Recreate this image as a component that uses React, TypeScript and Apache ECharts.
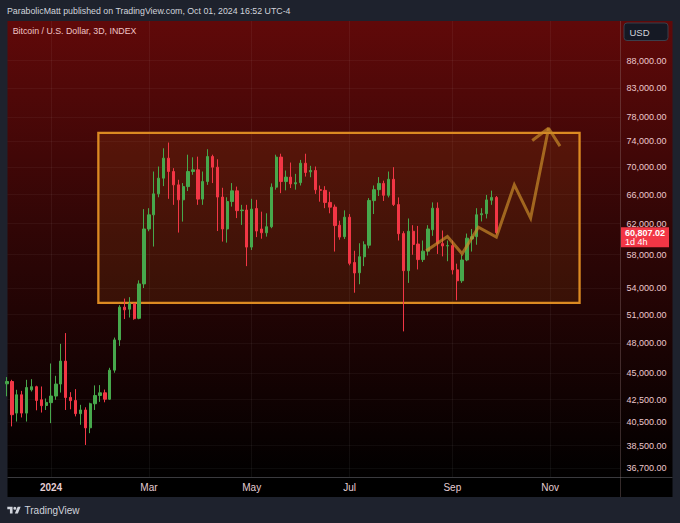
import React, { useEffect, useRef } from 'react';
import * as echarts from 'echarts';

// ---------- data ----------
const candleDates = [
  '2023-12-05', '2023-12-08', '2023-12-11', '2023-12-14', '2023-12-17', '2023-12-20', '2023-12-23', '2023-12-26', '2023-12-29',
  '2024-01-01', '2024-01-04', '2024-01-07', '2024-01-10', '2024-01-13', '2024-01-16', '2024-01-19', '2024-01-22', '2024-01-25', '2024-01-28', '2024-01-31',
  '2024-02-03', '2024-02-06', '2024-02-09', '2024-02-12', '2024-02-15', '2024-02-18', '2024-02-21', '2024-02-24', '2024-02-27',
  '2024-03-01', '2024-03-04', '2024-03-07', '2024-03-10', '2024-03-13', '2024-03-16', '2024-03-19', '2024-03-22', '2024-03-25', '2024-03-28', '2024-03-31',
  '2024-04-03', '2024-04-06', '2024-04-09', '2024-04-12', '2024-04-15', '2024-04-18', '2024-04-21', '2024-04-24', '2024-04-27', '2024-04-30',
  '2024-05-03', '2024-05-06', '2024-05-09', '2024-05-12', '2024-05-15', '2024-05-18', '2024-05-21', '2024-05-24', '2024-05-27', '2024-05-30',
  '2024-06-02', '2024-06-05', '2024-06-08', '2024-06-11', '2024-06-14', '2024-06-17', '2024-06-20', '2024-06-23', '2024-06-26', '2024-06-29',
  '2024-07-02', '2024-07-05', '2024-07-08', '2024-07-11', '2024-07-14', '2024-07-17', '2024-07-20', '2024-07-23', '2024-07-26', '2024-07-29',
  '2024-08-01', '2024-08-04', '2024-08-07', '2024-08-10', '2024-08-13', '2024-08-16', '2024-08-19', '2024-08-22', '2024-08-25', '2024-08-28', '2024-08-31',
  '2024-09-03', '2024-09-06', '2024-09-09', '2024-09-12', '2024-09-15', '2024-09-18', '2024-09-21', '2024-09-24', '2024-09-27', '2024-09-30',
];

const openPrices = [
  43960, 44180, 41280, 42940, 41280, 43400, 43690, 42480, 41960,
  42220, 42820, 43940, 46160, 42700, 42420, 41230, 41560, 40000, 42120, 42870,
  43120, 42530, 45270, 48310, 51830, 51600, 52200, 50600, 54480,
  61300, 63190, 66100, 68370, 71370, 69350, 67390, 65260, 67140, 69350, 69600,
  65360, 67870, 71620, 70000, 65650, 61300, 65020, 66530, 63760, 63850,
  58960, 64060, 61300, 60800, 61600, 67060, 71530, 67870, 68520, 67530,
  67710, 70600, 69300, 69500, 66700, 66600, 64900, 64250, 61800, 60300,
  62870, 57050, 55800, 57750, 59200, 65150, 66700, 67600, 65900, 68200,
  64600, 60700, 56050, 61000, 59350, 57400, 58450, 61200, 64100, 59400, 59100,
  59150, 56150, 54850, 57350, 60000, 60300, 63200, 63350, 65200, 65600,
];

const highPrices = [
  44600, 44340, 43400, 43300, 44340, 44400, 43780, 43710, 42600,
  45920, 44720, 47900, 49020, 43180, 43460, 42020, 41800, 42210, 43810, 43840,
  43420, 45500, 48550, 52050, 52790, 52950, 52280, 54900, 63970,
  64100, 69350, 70100, 72900, 73800, 69850, 68130, 67650, 71900, 71500, 71600,
  69350, 72750, 71900, 71200, 66970, 65620, 67650, 67140, 64560, 64560,
  65400, 65260, 63620, 63400, 67600, 71900, 72050, 69500, 70700, 69000,
  71100, 72050, 70200, 70100, 67300, 67200, 66400, 64600, 62400, 63800,
  63300, 58500, 59450, 59700, 65500, 67300, 68520, 68000, 69350, 70000,
  65600, 61000, 62700, 61800, 61700, 59800, 61800, 64900, 64900, 61100, 59800,
  59800, 56900, 58000, 60700, 61300, 64100, 64100, 65950, 66560, 65800,
];

const lowPrices = [
  42800, 40120, 40540, 40900, 40540, 43240, 41530, 41330, 41560,
  40400, 42480, 43140, 41560, 41620, 40990, 40260, 38550, 39540, 41560, 42290,
  42250, 42480, 45020, 47690, 50520, 50690, 50450, 50500, 54000,
  61000, 59030, 65620, 67210, 65400, 64560, 60830, 62280, 66500, 68870, 64560,
  64560, 67390, 67650, 61030, 59660, 59530, 64320, 62750, 61840, 56600,
  58600, 60240, 60030, 60300, 61400, 66700, 66200, 66600, 66930, 66700,
  67300, 68600, 68500, 66100, 65000, 64100, 63400, 58400, 59900, 60000,
  56700, 53460, 54440, 56600, 58800, 63300, 65800, 65100, 65600, 64400,
  59800, 49200, 54600, 58000, 56200, 57100, 57900, 60400, 58100, 57800, 57200,
  55600, 52600, 54600, 57200, 58400, 59260, 62300, 62700, 64560, 60600,
];

const closePrices = [
  44180, 41140, 42940, 41280, 43610, 43690, 42420, 41940, 42240,
  42820, 43940, 46160, 42680, 42400, 41230, 41560, 39990, 42120, 42870, 43120,
  42530, 45270, 48310, 51830, 51530, 52200, 50560, 54480, 61300,
  63190, 66100, 68370, 71370, 69350, 67390, 65260, 67140, 69350, 69600, 65360,
  67870, 71620, 70000, 65650, 61300, 65020, 66530, 63760, 63850, 58960,
  63970, 61030, 60800, 61600, 67060, 71530, 67870, 68520, 67530, 67710,
  70600, 69200, 69500, 66680, 66600, 64880, 64240, 61750, 60240, 62870,
  56940, 55770, 57760, 59260, 65170, 66700, 67600, 65900, 68200, 64600,
  60680, 56050, 61000, 59300, 57400, 58450, 61300, 64100, 59390, 59100, 59150,
  56150, 54850, 57350, 60100, 60300, 63200, 63350, 65250, 65600, 60807.02,
];

const priceTicks = [36700, 38500, 40500, 42500, 45000, 48000, 51000, 54000, 58000, 62000, 66000, 70000, 74000, 78000, 83000, 88000];
const monthTickDates = ['2024-01-01', '2024-03-01', '2024-05-03', '2024-07-02', '2024-09-03', '2024-11-02'];
const monthTickLabels = ['2024', 'Mar', 'May', 'Jul', 'Sep', 'Nov'];

// range box (drawn rectangle): [start date, end date], [top price, bottom price]
const boxDates = ['2024-01-30', '2024-11-20'];
const boxPrices = [75350, 52310];

// projected path drawn on the chart
const projDates = ['2024-08-18', '2024-08-31', '2024-09-09', '2024-09-19', '2024-09-30', '2024-10-11', '2024-10-21', '2024-11-01'];
const projPrices = [58490, 60310, 58120, 61540, 60240, 67390, 62740, 76110];
const arrowDates = ['2024-10-22', '2024-11-01', '2024-11-08'];
const arrowPrices = [74120, 76110, 73230];

const lastPriceText = '60,807.02';
const countdownText = '1d 4h';

// axis extents
const X_MIN_DAY = -26.7;
const X_MAX_DAY = 349.1;
const Y_MIN_PRICE = 35950;
const Y_MAX_PRICE = 95810;

// ---------- helpers ----------
const FONT = '"Liberation Sans", Arial, sans-serif';
const UP = '#47a84c';
const DOWN = '#f23645';

const dayOf = (s: string) => {
  const [y, m, d] = s.split('-').map(Number);
  return (Date.UTC(y, m - 1, d) - Date.UTC(2024, 0, 1)) / 86400000;
};
const ln = Math.log;

const TV_LOGO_D = 'M14 22H7V11H0V4h14v18zM28 22h-8l7.5-18h8L28 22zM24 8a4 4 0 1 1-8 0a4 4 0 1 1 8 0z';
try {
  echarts.graphic.registerShape('tvlogo', echarts.graphic.extendPath(TV_LOGO_D, {}) as any);
} catch (e) {
  // ignore
}

export default function App() {
  const ref = useRef<HTMLDivElement>(null);

  useEffect(() => {
    document.body.style.margin = '0';
    if (!ref.current) return;
    const chart = echarts.init(ref.current, undefined, { renderer: 'svg' });

    const tickDays = monthTickDates.map(dayOf);
    const candleData = candleDates.map((d, i) => [
      dayOf(d),
      ln(openPrices[i]),
      ln(closePrices[i]),
      ln(lowPrices[i]),
      ln(highPrices[i]),
    ]);

    const baseGraphics: any[] = [
      {
        id: 'panel',
        type: 'rect',
        z: -10,
        silent: true,
        shape: { x: 7.5, y: 21, width: 665, height: 457 },
        style: {
          fill: new echarts.graphic.LinearGradient(0, 0, 0, 1, [
            { offset: 0, color: '#600909' },
            { offset: 0.45, color: '#310606' },
            { offset: 1, color: '#010000' },
          ]),
        },
      },
      {
        id: 'band',
        type: 'rect',
        z: -10,
        silent: true,
        shape: { x: 7.5, y: 478, width: 665, height: 19 },
        style: { fill: '#000000' },
      },
      {
        id: 'sepH',
        type: 'line',
        z: 50,
        silent: true,
        shape: { x1: 7.5, y1: 477.5, x2: 672.5, y2: 477.5 },
        style: { stroke: '#3a3a3e', lineWidth: 1 },
      },
      {
        id: 'sepV',
        type: 'line',
        z: 50,
        silent: true,
        shape: { x1: 620.5, y1: 21, x2: 620.5, y2: 497 },
        style: { stroke: 'rgba(150,120,120,0.35)', lineWidth: 1 },
      },
      {
        id: 'header',
        type: 'text',
        z: 50,
        x: 7,
        y: 10.5,
        style: {
          text: 'ParabolicMatt published on TradingView.com, Oct 01, 2024 16:52 UTC-4',
          fill: '#d1d4dc',
          font: `8.8px ${FONT}`,
          verticalAlign: 'middle',
        },
      },
      {
        id: 'title',
        type: 'text',
        z: 50,
        x: 12.7,
        y: 30.5,
        style: {
          text: 'Bitcoin / U.S. Dollar, 3D, INDEX',
          fill: '#f0c4c6',
          font: `8.8px ${FONT}`,
          verticalAlign: 'middle',
        },
      },
      {
        id: 'usdBox',
        type: 'rect',
        z: 50,
        shape: { x: 624, y: 23, width: 44, height: 17.5, r: 3 },
        style: { fill: '#151924', stroke: '#3b3f4b', lineWidth: 1 },
      },
      {
        id: 'usdText',
        type: 'text',
        z: 51,
        x: 629.5,
        y: 32,
        style: { text: 'USD', fill: '#d1d4dc', font: `9.5px ${FONT}`, verticalAlign: 'middle' },
      },
      {
        id: 'logo',
        type: 'tvlogo',
        z: 50,
        x: 7.3,
        y: 505.2,
        scaleX: 0.377,
        scaleY: 0.377,
        style: { fill: '#d1d4dc' },
      },
      {
        id: 'logoText',
        type: 'text',
        z: 50,
        x: 24.5,
        y: 510,
        style: { text: 'TradingView', fill: '#d1d4dc', font: `10px ${FONT}`, verticalAlign: 'middle' },
      },
    ];

    const option: any = {
      animation: false,
      backgroundColor: '#1e222d',
      grid: { left: 7.5, right: 59.5, top: 21, bottom: 45.5, containLabel: false },
      xAxis: {
        type: 'value',
        min: X_MIN_DAY,
        max: X_MAX_DAY,
        axisLine: { show: false },
        axisTick: { show: false, customValues: tickDays },
        splitLine: { show: true, lineStyle: { color: 'rgba(255,255,255,0.05)', width: 1 } },
        axisLabel: {
          customValues: tickDays,
          margin: 5,
          color: '#e4cdd3',
          fontSize: 10,
          fontFamily: FONT,
          formatter: (v: number) => {
            const i = tickDays.findIndex((t) => Math.abs(t - v) < 0.01);
            if (i < 0) return '';
            return i === 0 ? `{y|${monthTickLabels[i]}}` : monthTickLabels[i];
          },
          rich: {
            y: { fontWeight: 'bold', color: '#e4cdd3', fontSize: 10, fontFamily: FONT },
          },
        },
      },
      yAxis: {
        type: 'value',
        position: 'right',
        min: ln(Y_MIN_PRICE),
        max: ln(Y_MAX_PRICE),
        axisLine: { show: false },
        axisTick: { show: false, customValues: priceTicks.map(ln) },
        splitLine: { show: true, lineStyle: { color: 'rgba(255,255,255,0.045)', width: 1 } },
        axisLabel: {
          customValues: priceTicks.map(ln),
          margin: 6,
          color: '#ecc8cc',
          fontSize: 9,
          fontFamily: FONT,
          formatter: (v: number) => {
            const p = Math.round(Math.exp(v) / 100) * 100;
            return p.toLocaleString('en-US') + '.00';
          },
        },
      },
      series: [
        {
          type: 'candlestick',
          data: candleData,
          encode: { x: 0, y: [1, 2, 3, 4] },
          barWidth: 2.8,
          clip: true,
          itemStyle: {
            color: UP,
            color0: DOWN,
            borderColor: UP,
            borderColor0: DOWN,
            borderWidth: 1,
          },
          markArea: {
            silent: true,
            itemStyle: {
              color: 'rgba(235,130,30,0.11)',
              borderColor: '#dc8a22',
              borderWidth: 2.3,
            },
            data: [
              [
                { coord: [dayOf(boxDates[0]), ln(boxPrices[0])] },
                { coord: [dayOf(boxDates[1]), ln(boxPrices[1])] },
              ],
            ],
          },
          z: 2,
        },
        {
          type: 'line',
          data: projDates.map((d, i) => [dayOf(d), ln(projPrices[i])]),
          symbol: 'none',
          silent: true,
          lineStyle: { color: 'rgba(200,138,42,0.7)', width: 3, join: 'miter' },
          z: 3,
        },
        {
          type: 'line',
          data: arrowDates.map((d, i) => [dayOf(d), ln(arrowPrices[i])]),
          symbol: 'none',
          silent: true,
          lineStyle: { color: 'rgba(200,138,42,0.7)', width: 3 },
          z: 3,
        },
      ],
      graphic: baseGraphics,
    };

    chart.setOption(option);

    // current price label, placed through the y axis scale
    const lastClose = closePrices[closePrices.length - 1];
    const py = chart.convertToPixel({ yAxisIndex: 0 }, ln(lastClose)) as number;
    chart.setOption({
      graphic: [
        ...baseGraphics,
        {
          id: 'priceBox',
          type: 'rect',
          z: 60,
          shape: { x: 621, y: py - 5.5, width: 48, height: 20 },
          style: { fill: '#f23645' },
        },
        {
          id: 'priceText',
          type: 'text',
          z: 61,
          x: 625,
          y: py,
          style: { text: lastPriceText, fill: '#ffffff', font: `bold 9px ${FONT}`, verticalAlign: 'middle' },
        },
        {
          id: 'countText',
          type: 'text',
          z: 61,
          x: 625,
          y: py + 9.5,
          style: { text: countdownText, fill: '#ffffff', font: `9px ${FONT}`, verticalAlign: 'middle' },
        },
      ],
    });

    return () => {
      chart.dispose();
    };
  }, []);

  return <div ref={ref} style={{ width: 680, height: 523 }} />;
}
